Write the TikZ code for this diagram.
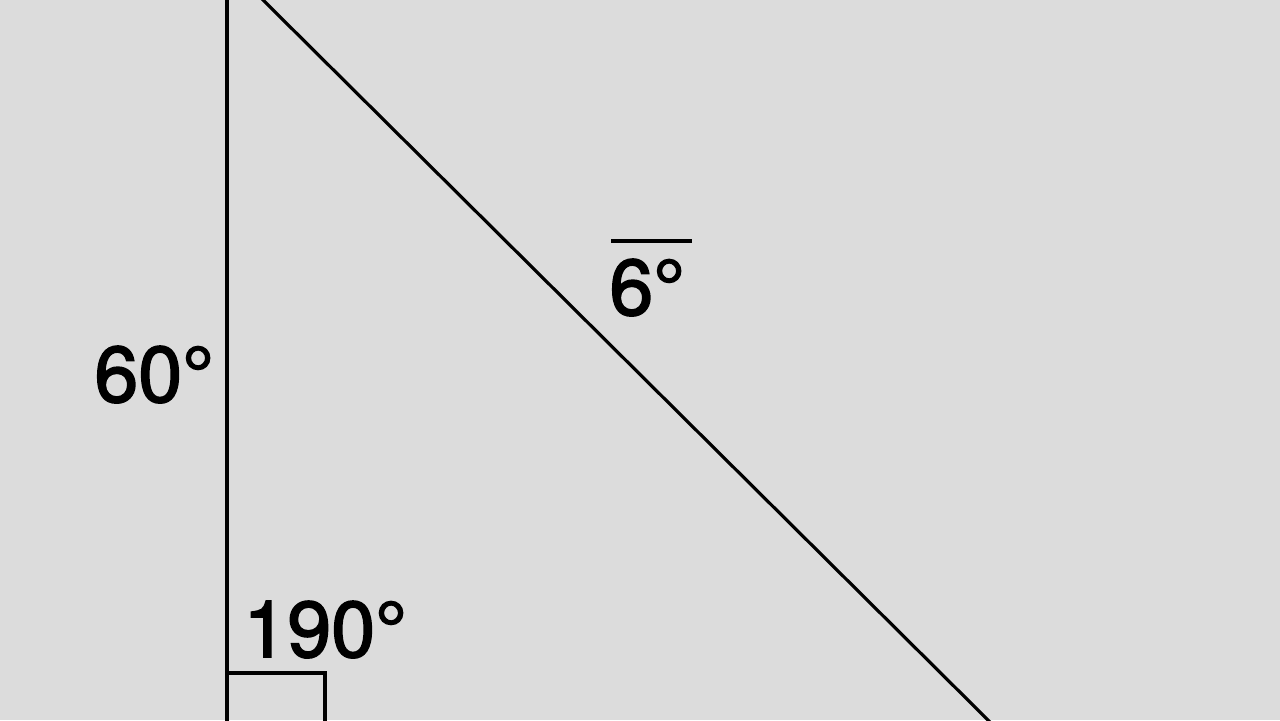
\documentclass[tikz,border=0pt]{standalone}
\usepackage{fontspec}
\setmainfont{TeX Gyre Heros}
\newfontfamily\lblfont[FakeBold=2]{TeX Gyre Heros}
\definecolor{paper}{RGB}{220,220,220}
\tikzset{
    thin edge/.style={line width=1.8pt},
    anglbl/.style={anchor=base west, inner sep=0pt, font=\lblfont\fontsize{45}{54}\selectfont}
}
\begin{document}
\begin{tikzpicture}[x=0.02cm, y=-0.02cm]
    \fill[paper] (0,0) rectangle (1280,720);
    \useasboundingbox (0,0) rectangle (1280,720);
    % triangle corners (some run off the page)
    \coordinate (top) at (227,-5);
    \coordinate (foot) at (227,725);
    \coordinate (apex) at (258,-5);
    \coordinate (tip) at (993,725);
    \coordinate (boxtl) at (227,673);
    \coordinate (boxtr) at (325,673);
    \coordinate (boxbr) at (325,725);
    \draw[thin edge] (top) -- (foot);
    \draw[thin edge] (apex) -- (tip);
    \draw[thin edge] (boxtl) -- (boxtr) -- (boxbr);
    % angle labels
    \node[anglbl] (side) at (94,402) {60°};
    \node[anglbl] (right) at (243,657) {190°};
    \node[anglbl] (hyp) at (609,315) {6°};
    \draw[line width=2.6pt] (611,241) -- (692,241);
\end{tikzpicture}
\end{document}
